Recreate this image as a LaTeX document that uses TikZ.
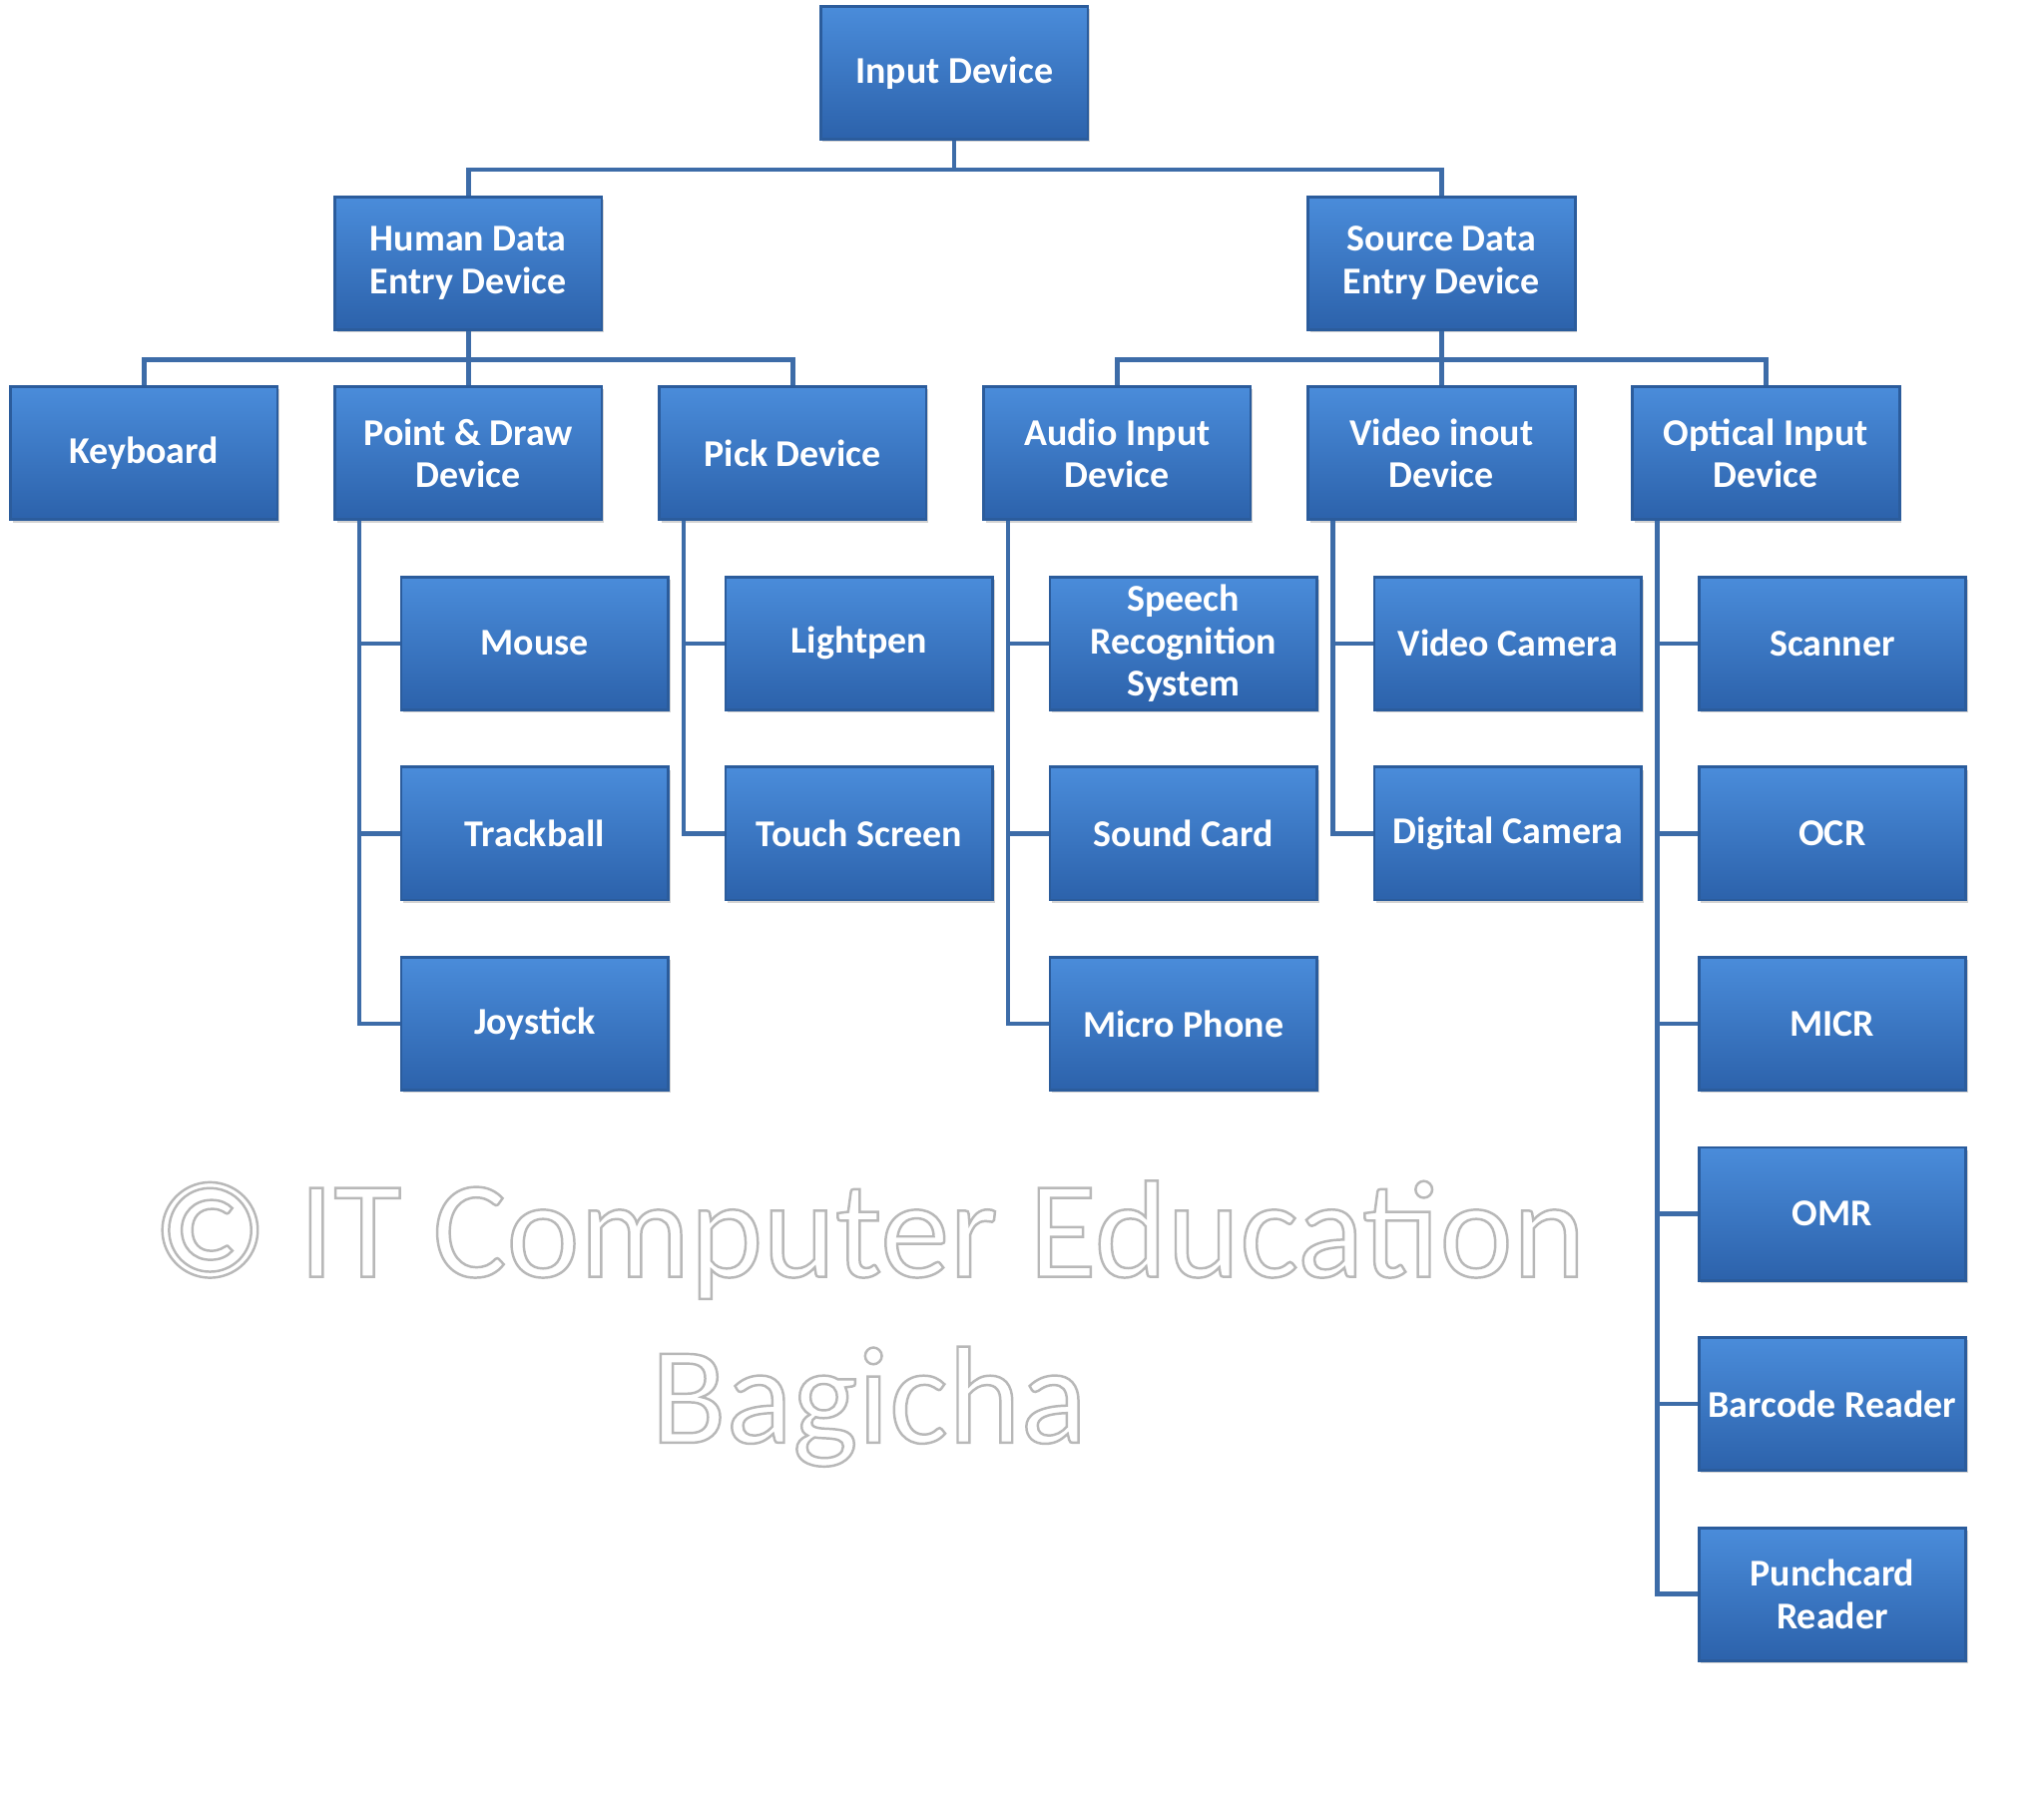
\documentclass[tikz,border=0pt]{standalone}
\usepackage{fontspec}
\setmainfont{Carlito}
\usetikzlibrary{shadows}
\definecolor{topb}{HTML}{4A8CDA}
\definecolor{botb}{HTML}{2C62AB}
\definecolor{edgeb}{HTML}{2B5C9C}
\definecolor{lineb}{HTML}{3D6CA8}
\def\u{0.013056}
\tikzset{
 box/.style={draw=edgeb, line width=0.8pt, top color=topb, bottom color=botb, text=white,
   minimum width=205*\u cm, minimum height=102*\u cm, inner sep=0pt,
   align=center, font=\fontsize{10.8}{12.1}\selectfont\bfseries,
   drop shadow={shadow xshift=0.6pt, shadow yshift=-0.8pt, opacity=0.35}},
 conn/.style={draw=lineb, line width=1.3pt}
}
\newcommand{\bx}[4]{\node[box] (#1) at (#2+102.5,#3+51) {#4};}
\begin{document}
\begin{tikzpicture}[x=\u cm, y=-\u cm]
\useasboundingbox (0,0) rectangle (1569,1380);
\bx{in}{630}{5}{Input Device}
\bx{hu}{257}{151}{Human Data\\Entry Device}
\bx{so}{1004}{151}{Source Data\\Entry Device}
\bx{kb}{8}{297}{Keyboard}
\bx{pd}{257}{297}{Point \& Draw\\Device}
\bx{pk}{506}{297}{Pick Device}
\bx{au}{755}{297}{Audio Input\\Device}
\bx{vi}{1004}{297}{Video inout\\Device}
\bx{op}{1253}{297}{Optical Input\\Device}
\bx{mo}{308}{443}{Mouse}
\bx{tb}{308}{589}{Trackball}
\bx{js}{308}{735}{Joystick}
\bx{lp}{557}{443}{Lightpen}
\bx{ts}{557}{589}{Touch Screen}
\bx{sr}{806}{443}{Speech\\Recognition\\System}
\bx{sc}{806}{589}{Sound Card}
\bx{mp}{806}{735}{Micro Phone}
\bx{vc}{1055}{443}{Video Camera}
\bx{dc}{1055}{589}{Digital Camera}
\bx{sn}{1304}{443}{Scanner}
\bx{oc}{1304}{589}{OCR}
\bx{mi}{1304}{735}{MICR}
\bx{om}{1304}{881}{OMR}
\bx{br}{1304}{1027}{Barcode Reader}
\bx{pr}{1304}{1173}{Punchcard\\Reader}
% tree connectors
\draw[conn] (in.south) -- ++(0,22) -| (hu.north);
\draw[conn] (in.south) ++(0,22) -| (so.north);
\draw[conn] (hu.south) -- ++(0,22) -| (kb.north);
\draw[conn] (hu.south) ++(0,22) -| (pk.north);
\draw[conn] (hu.south) -- (pd.north);
\draw[conn] (so.south) -- ++(0,22) -| (au.north);
\draw[conn] (so.south) ++(0,22) -| (op.north);
\draw[conn] (so.south) -- (vi.north);
% side connectors
\foreach \p/\last/\kids in {pd/js/{mo,tb,js}, pk/ts/{lp,ts}, au/mp/{sr,sc,mp}, vi/dc/{vc,dc}, op/pr/{sn,oc,mi,om,br,pr}}{
  \draw[conn] ([xshift=20*\u cm]\p.south west) |- (\last.west);
  \foreach \k in \kids {\draw[conn] ([xshift=20*\u cm]\p.south west |- \k.west) -- (\k.west);}
}
% watermark
\node (wm1) at (667,952) {\fontsize{39.5}{46}\selectfont\color{white}\special{pdf:literal direct 0.72 G 0.7 w 2 Tr}\textcopyright{} IT Computer Education\special{pdf:literal direct 0 Tr}};
\node (wm2) at (667,1080) {\fontsize{39.5}{46}\selectfont\color{white}\special{pdf:literal direct 0.72 G 0.7 w 2 Tr}Bagicha\special{pdf:literal direct 0 Tr}};
\end{tikzpicture}
\end{document}
